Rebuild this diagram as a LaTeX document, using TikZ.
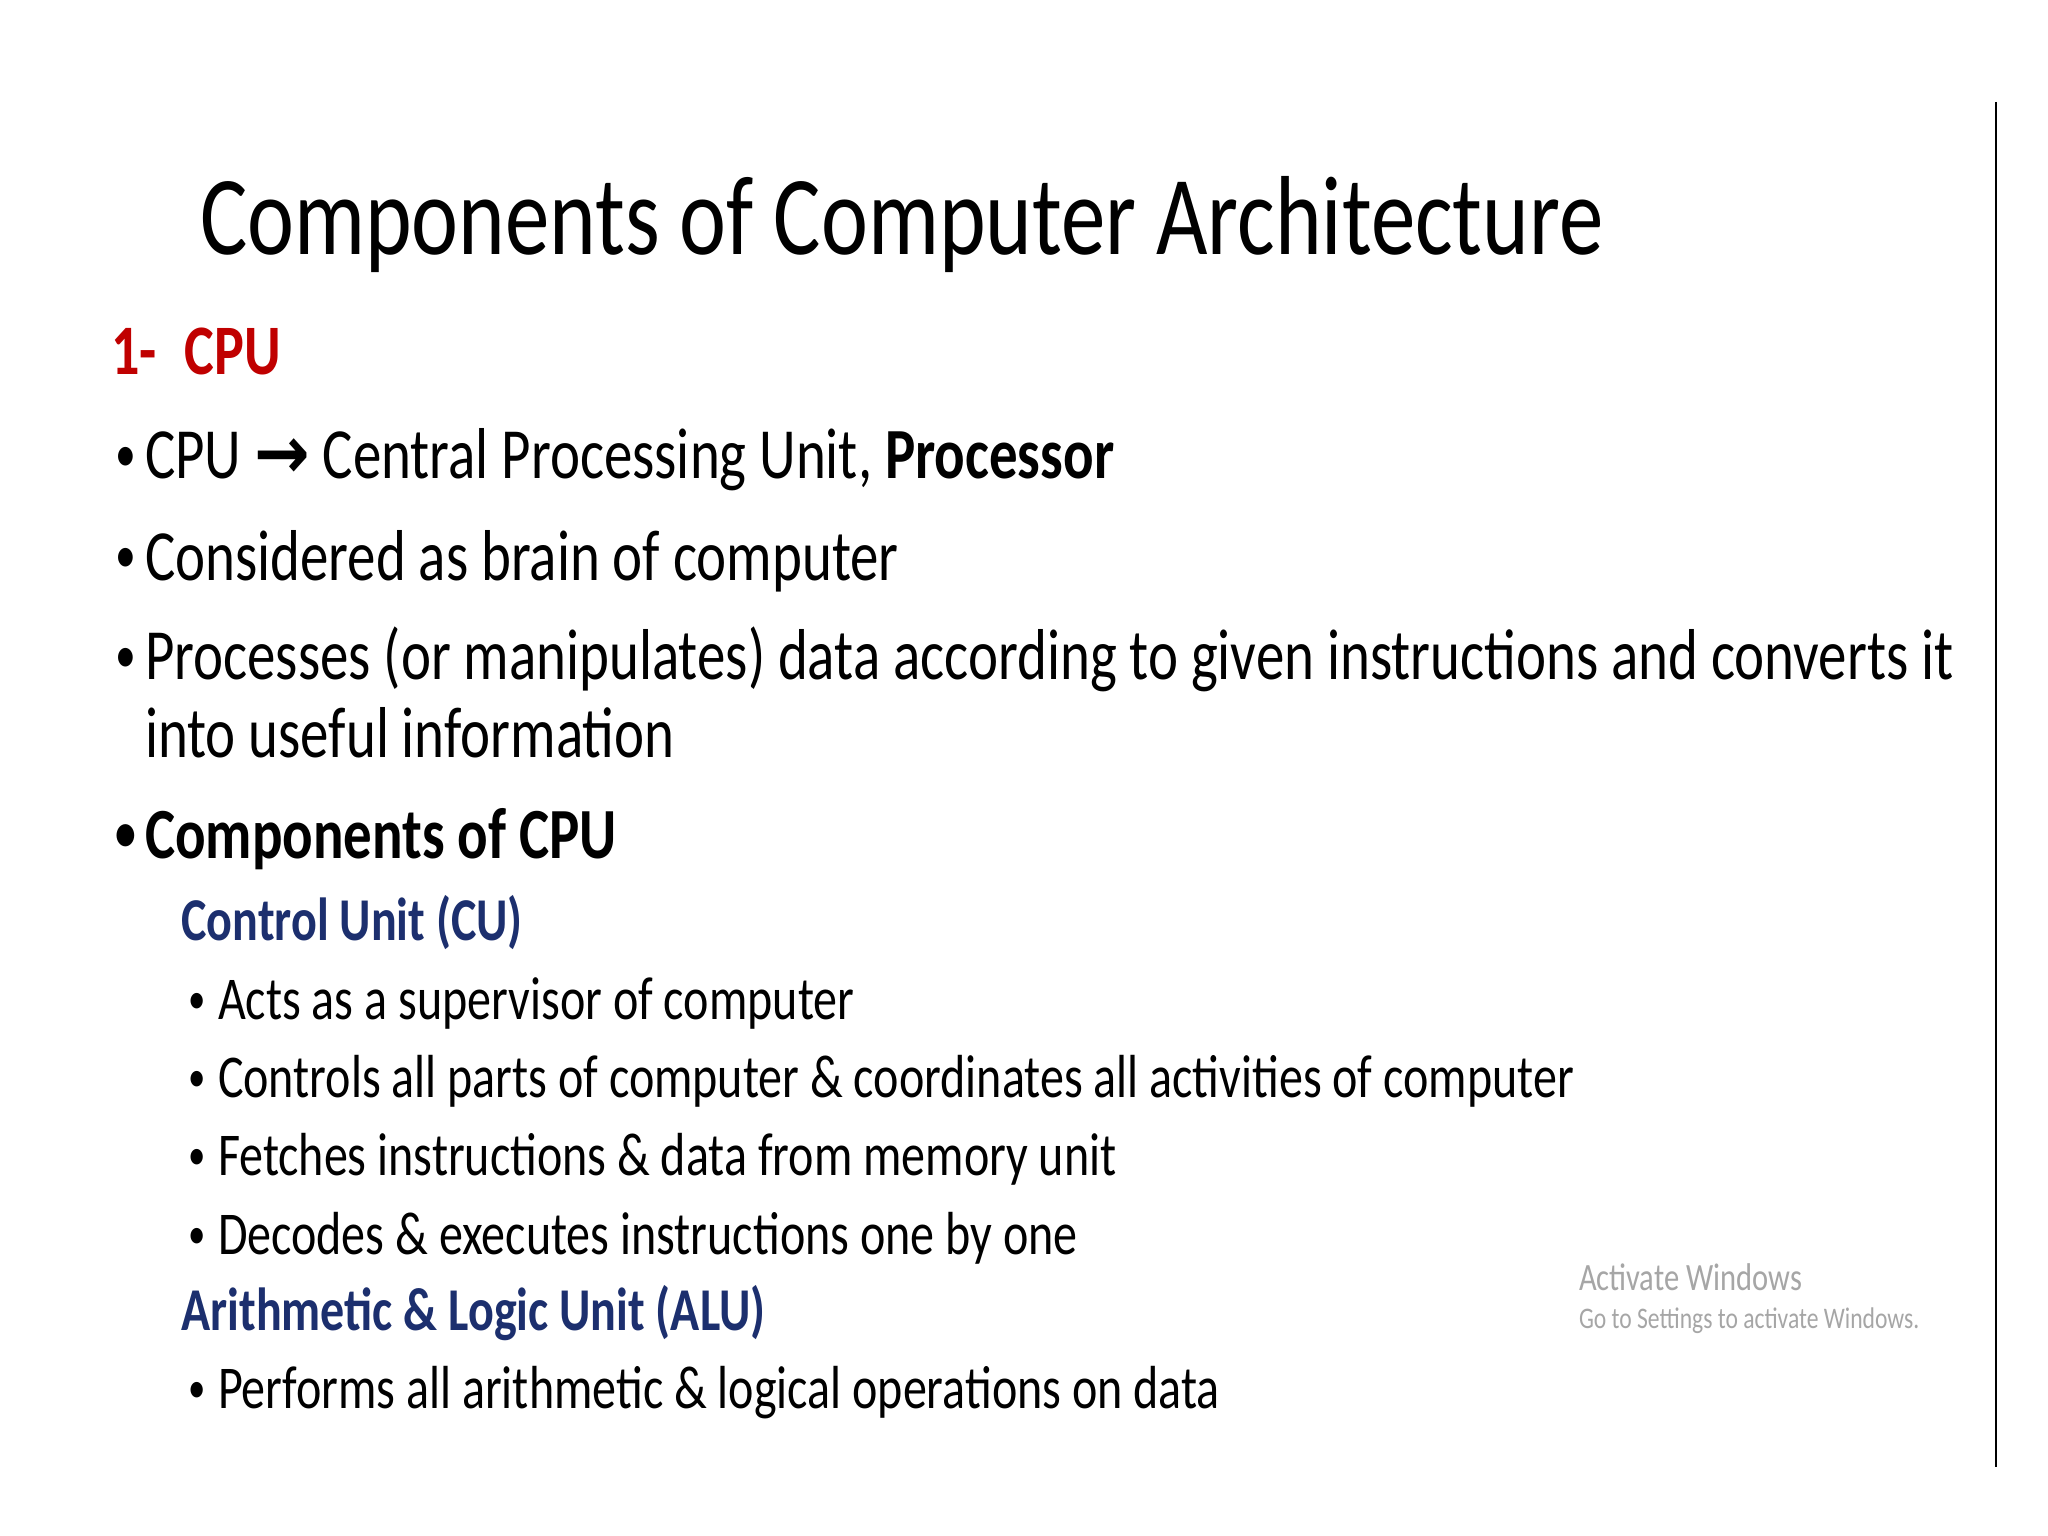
\documentclass[tikz,border=0pt]{standalone}
\usepackage{fontspec}
\setmainfont{Carlito}[FakeStretch=0.79]
\newfontfamily\dvs{DejaVu Sans}[FakeStretch=0.9]
\definecolor{cpured}{HTML}{C00000}
\definecolor{cunavy}{HTML}{1C2F6E}
\definecolor{wingrey}{HTML}{A6A6A6}
\begin{document}
\begin{tikzpicture}[x=1cm,y=1cm,
  txt/.style={anchor=base west,inner sep=0pt,outer sep=0pt},
  big/.style={txt,font=\fontsize{20.5pt}{24pt}\selectfont},
  small/.style={txt,font=\fontsize{17.3pt}{21pt}\selectfont},
  bul/.style={txt,font=\fontsize{15pt}{18pt}\selectfont},
  sbul/.style={txt,font=\fontsize{12.5pt}{15pt}\selectfont},
  head/.style={txt,font=\fontsize{17.3pt}{21pt}\selectfont\bfseries,text=cunavy}]
\useasboundingbox[fill=white] (0,0) rectangle (20.48,-15.36);
\draw[line width=0.8pt] (19.96,-1.02) -- (19.96,-14.67);
\node[txt,font=\fontsize{32pt}{36pt}\selectfont] (title) at (2.00,-2.55) {Components of Computer Architecture};
\node[txt,font=\fontsize{20.2pt}{24pt}\selectfont\bfseries,text=cpured] (cpu) at (1.11,-3.75) {1-\hspace{0.4em}CPU};
\node[bul] (b1) at (1.16,-4.72) {•};
\node[big] (t1) at (1.45,-4.79) {CPU {\dvs\bfseries\fontsize{21pt}{24pt}\selectfont →} Central Processing Unit, \textbf{Processor}};
\node[bul] (b2) at (1.16,-5.73) {•};
\node[big] (t2) at (1.45,-5.80) {Considered as brain of computer};
\node[bul] (b3) at (1.16,-6.73) {•};
\node[big] (t3) at (1.45,-6.80) {Processes (or manipulates) data according to given instructions and converts it};
\node[big] (t3b) at (1.45,-7.575) {into useful information};
\node[bul,font=\fontsize{15pt}{18pt}\selectfont\bfseries] (b4) at (1.16,-8.51) {•};
\node[big,font=\fontsize{20.5pt}{24pt}\selectfont\bfseries] (t4) at (1.45,-8.58) {Components of CPU};
\node[head] (cu) at (1.815,-9.40) {Control Unit (CU)};
\foreach \y/\t [count=\i] in {10.19/{Acts as a supervisor of computer},10.97/{Controls all parts of computer \& coordinates all activities of computer},11.75/{Fetches instructions \& data from memory unit},12.54/{Decodes \& executes instructions one by one}}{
  \node[sbul] (sb\i) at (1.88,-\y+0.06) {•};
  \node[small] (st\i) at (2.18,-\y) {\t};
}
\node[head] (alu) at (1.815,-13.30) {Arithmetic \& Logic Unit (ALU)};
\node[sbul] (sb5) at (1.88,-14.02) {•};
\node[small] (st5) at (2.18,-14.08) {Performs all arithmetic \& logical operations on data};
\node[txt,font=\fontsize{11pt}{13pt}\selectfont,text=wingrey] (aw) at (15.79,-12.90) {Activate Windows};
\node[txt,font=\fontsize{8.5pt}{10pt}\selectfont,text=wingrey] (gs) at (15.79,-13.28) {Go to Settings to activate Windows.};
\end{tikzpicture}
\end{document}
